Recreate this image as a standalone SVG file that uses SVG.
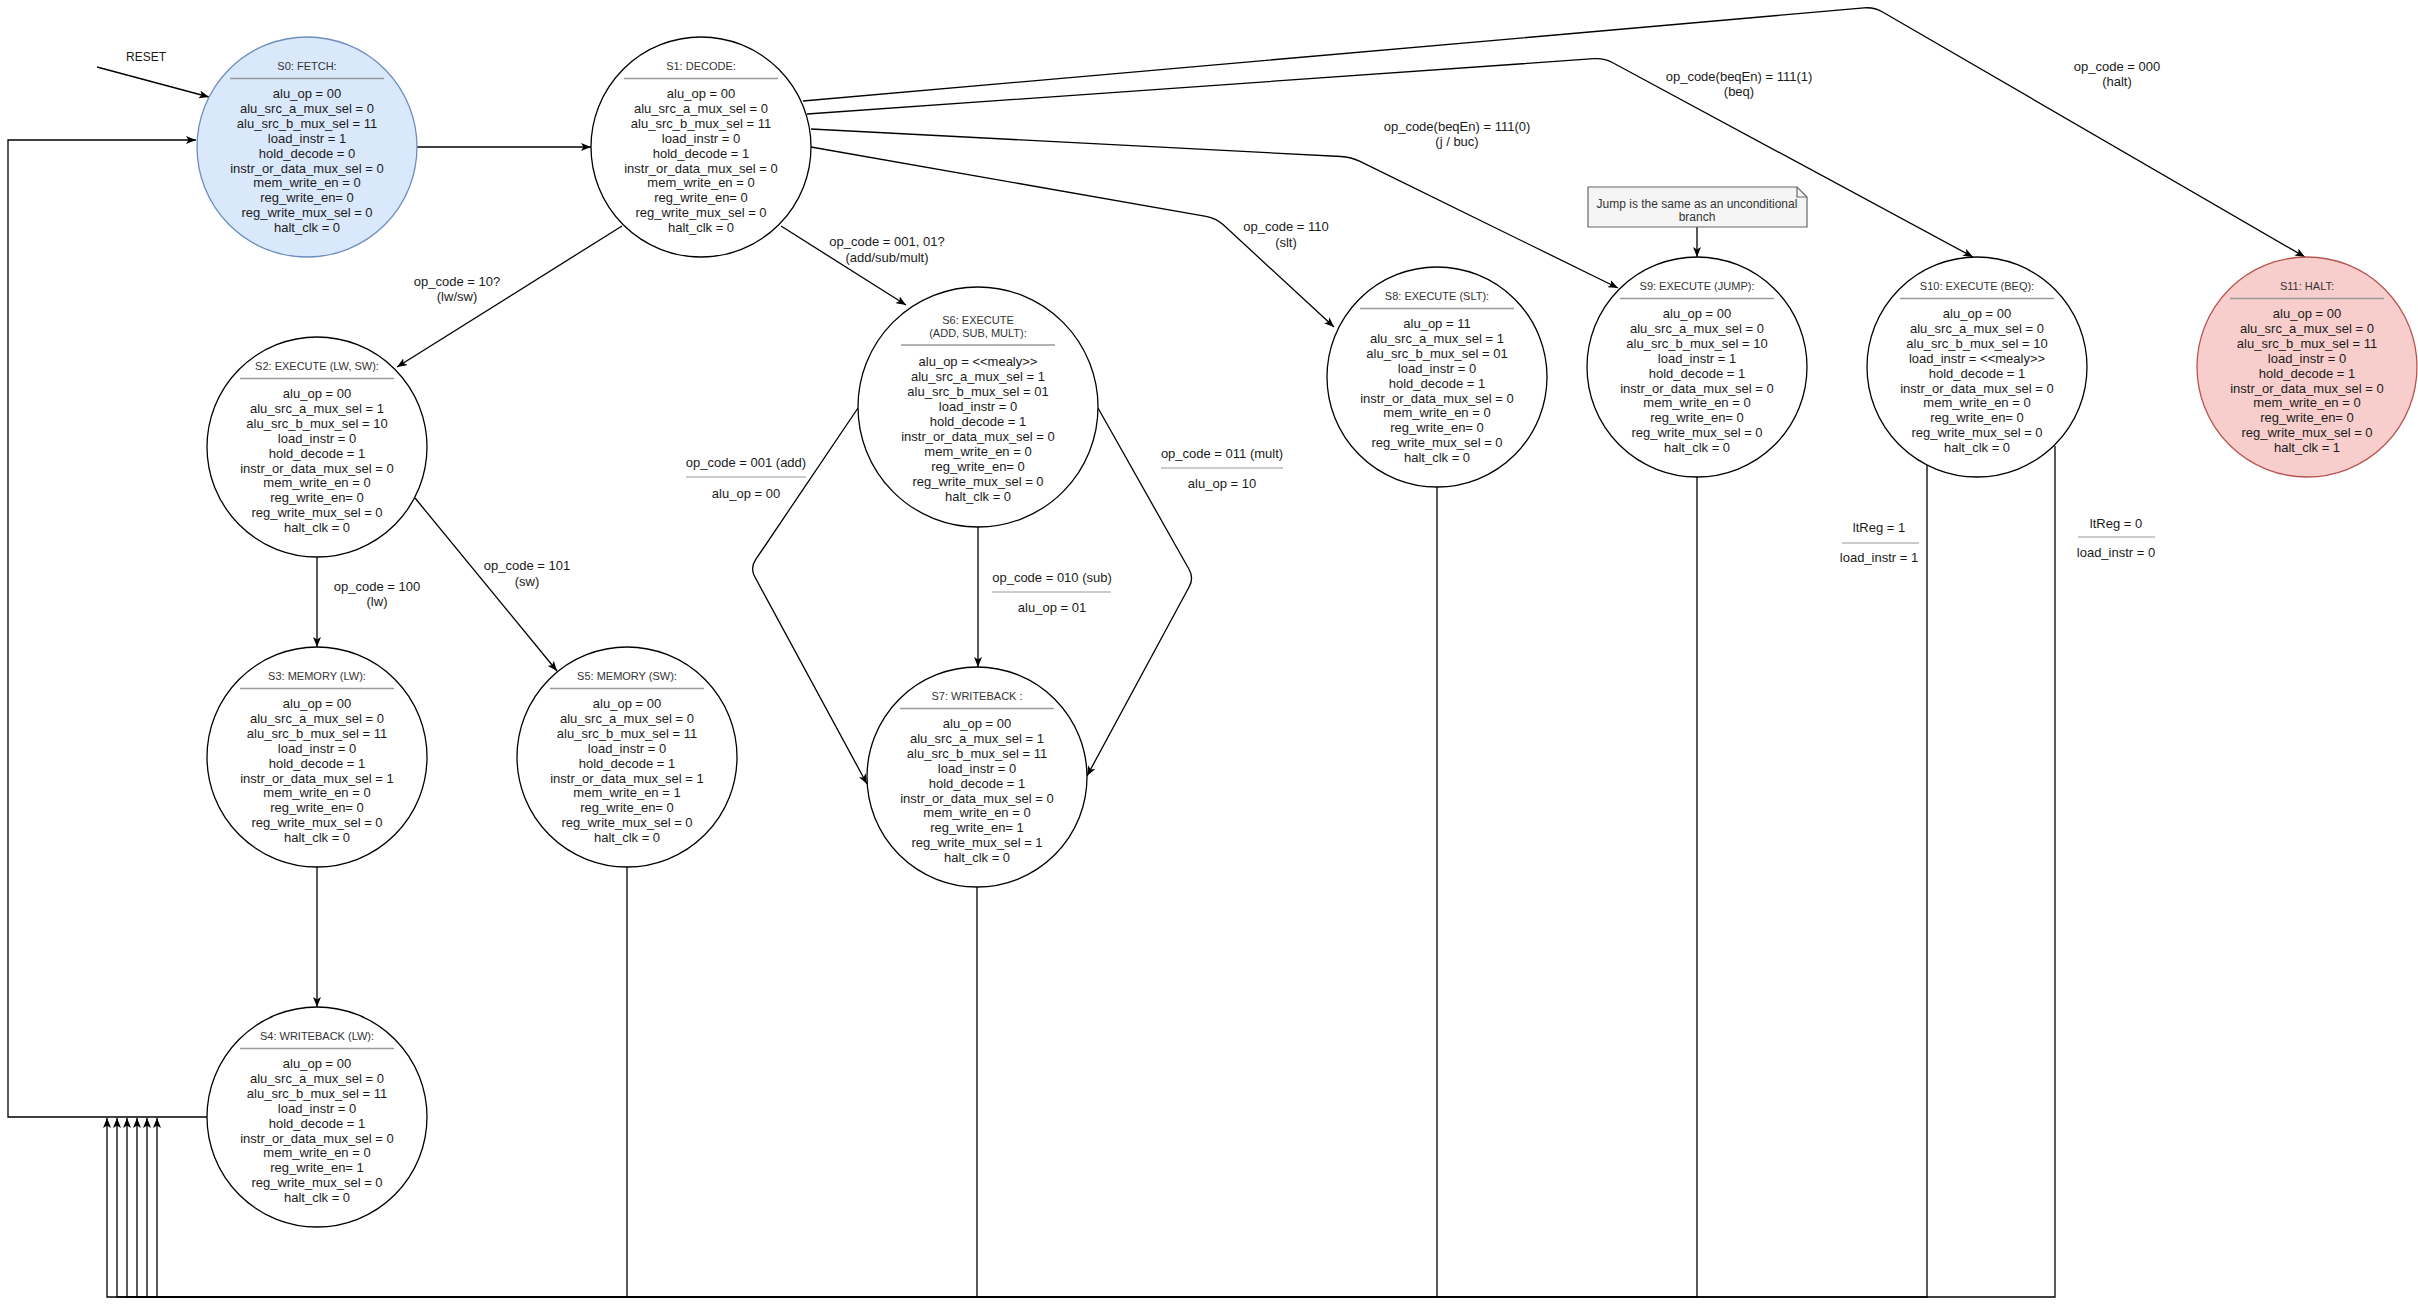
<svg xmlns="http://www.w3.org/2000/svg" width="2418" height="1307" viewBox="0 0 2418 1307">
<defs>
<marker id="arr" viewBox="0 0 10 8" refX="10" refY="4" markerWidth="10" markerHeight="8" markerUnits="userSpaceOnUse" orient="auto">
<path d="M0,0 L10,4 L0,8 L2.5,4 Z" fill="#000"/>
</marker>
<style>
.st{fill:#fff;stroke:#000;stroke-width:1.3}
.blue{fill:#dae8fc;stroke:#6c8ebf}
.red{fill:#f8cecc;stroke:#b85450}
.tt{font-family:"Liberation Sans",Arial,sans-serif;font-size:11px;fill:#333;text-anchor:middle}
.bd{font-family:"Liberation Sans",Arial,sans-serif;font-size:13px;fill:#1a1a1a;text-anchor:middle}
.sep{stroke:#999;stroke-width:1.5}
.edge{fill:none;stroke:#000;stroke-width:1.3;marker-end:url(#arr)}
.lbl{font-family:"Liberation Sans",Arial,sans-serif;font-size:13px;fill:#1a1a1a;text-anchor:middle}
.lsep{stroke:#999;stroke-width:1.2}
.note{fill:#f5f5f5;stroke:#666;stroke-width:1.2}
.nt{font-family:"Liberation Sans",Arial,sans-serif;font-size:12px;fill:#333;text-anchor:middle}
</style>
</defs>
<rect width="2418" height="1307" fill="#fff"/>

<g id="connectors">
<line class="edge" x1="97" y1="67" x2="209" y2="97"/>
<text class="lbl" x="146" y="61" style="font-size:12px">RESET</text>
<line class="edge" x1="417" y1="147" x2="591" y2="147"/>
<line class="edge" x1="622" y1="226" x2="397" y2="367"/>
<line class="edge" x1="781" y1="226" x2="906" y2="305"/>
<path class="edge" d="M811,147 L1206,216.3 Q1216,218 1223.3,224.8 L1334,327"/>
<path class="edge" d="M811,129 L1341,156.5 Q1351,157 1360,161.4 L1618,288"/>
<path class="edge" d="M807,114 L1594,58.7 Q1604,58 1612.8,62.7 L1973,257"/>
<path class="edge" d="M803,101 L1864,7.9 Q1874,7 1882.6,12 L2305,257"/>
<line class="edge" x1="317" y1="557" x2="317" y2="647"/>
<line class="edge" x1="415" y1="498" x2="557" y2="671"/>
<line class="edge" x1="317" y1="867" x2="317" y2="1007"/>
<path class="edge" d="M858,408 L755.6,559.7 Q750,568 754.8,576.8 L867,784"/>
<line class="edge" x1="978" y1="527" x2="978" y2="667"/>
<path class="edge" d="M1098,408 L1189,569.3 Q1194,578 1189.2,586.8 L1087,776"/>
<line class="edge" x1="1697" y1="227" x2="1697" y2="257"/>
<path class="edge" d="M207,1117 H8 V140 H196"/>
<path class="edge" d="M627,867 V1297 H107 V1118"/>
<path class="edge" d="M977,887 V1297 H117 V1118"/>
<path class="edge" d="M1437,487 V1297 H127 V1118"/>
<path class="edge" d="M1697,477 V1297 H137 V1118"/>
<path class="edge" d="M1927,465 V1297 H147 V1118"/>
<path class="edge" d="M2055,446 V1297 H157 V1118"/>

<text class="lbl" x="457" y="285.5">op_code = 10?</text>
<text class="lbl" x="457" y="300.5">(lw/sw)</text>
<text class="lbl" x="887" y="245.5">op_code = 001, 01?</text>
<text class="lbl" x="887" y="261.5">(add/sub/mult)</text>
<text class="lbl" x="1286" y="230.5">op_code = 110</text>
<text class="lbl" x="1286" y="246.5">(slt)</text>
<text class="lbl" x="1457" y="130.5">op_code(beqEn) = 111(0)</text>
<text class="lbl" x="1457" y="145.5">(j / buc)</text>
<text class="lbl" x="1739" y="80.5">op_code(beqEn) = 111(1)</text>
<text class="lbl" x="1739" y="95.5">(beq)</text>
<text class="lbl" x="2117" y="70.5">op_code = 000</text>
<text class="lbl" x="2117" y="85.5">(halt)</text>
<text class="lbl" x="377" y="590.5">op_code = 100</text>
<text class="lbl" x="377" y="605.5">(lw)</text>
<text class="lbl" x="527" y="569.5">op_code = 101</text>
<text class="lbl" x="527" y="585.5">(sw)</text>
<text class="lbl" x="746" y="466.5">op_code = 001 (add)</text>
<line class="lsep" x1="686" y1="477" x2="806" y2="477"/>
<text class="lbl" x="746" y="497.5">alu_op = 00</text>
<text class="lbl" x="1052" y="581.5">op_code = 010 (sub)</text>
<line class="lsep" x1="992" y1="592" x2="1111" y2="592"/>
<text class="lbl" x="1052" y="611.5">alu_op = 01</text>
<text class="lbl" x="1222" y="457.5">op_code = 011 (mult)</text>
<line class="lsep" x1="1161" y1="468" x2="1283" y2="468"/>
<text class="lbl" x="1222" y="487.5">alu_op = 10</text>
<text class="lbl" x="1879" y="531.5">ltReg = 1</text>
<line class="lsep" x1="1842" y1="543" x2="1919" y2="543"/>
<text class="lbl" x="1879" y="561.5">load_instr = 1</text>
<text class="lbl" x="2116" y="527.5">ltReg = 0</text>
<line class="lsep" x1="2078" y1="537" x2="2155" y2="537"/>
<text class="lbl" x="2116" y="556.5">load_instr = 0</text>
</g>

<g id="note">
<path class="note" d="M1588,187 H1797 L1807,197 V227 H1588 Z"/>
<path d="M1797,187 V197 H1807" fill="none" stroke="#666" stroke-width="1.2"/>
<text class="nt" x="1697" y="208">Jump is the same as an unconditional</text>
<text class="nt" x="1697" y="221">branch</text>
</g>

<g id="s0">
<circle class="st blue" cx="307" cy="147" r="110"/>
<text class="tt" x="307" y="70">S0: FETCH:</text>
<line class="sep" x1="230" y1="78.5" x2="384" y2="78.5"/>
<text class="bd" y="98"><tspan x="307">alu_op = 00</tspan><tspan x="307" dy="14.9">alu_src_a_mux_sel = 0</tspan><tspan x="307" dy="14.9">alu_src_b_mux_sel = 11</tspan><tspan x="307" dy="14.9">load_instr = 1</tspan><tspan x="307" dy="14.9">hold_decode = 0</tspan><tspan x="307" dy="14.9">instr_or_data_mux_sel = 0</tspan><tspan x="307" dy="14.9">mem_write_en = 0</tspan><tspan x="307" dy="14.9">reg_write_en= 0</tspan><tspan x="307" dy="14.9">reg_write_mux_sel = 0</tspan><tspan x="307" dy="14.9">halt_clk = 0</tspan></text>
</g>

<g id="s1">
<circle class="st" cx="701" cy="147" r="110"/>
<text class="tt" x="701" y="70">S1: DECODE:</text>
<line class="sep" x1="624" y1="78.5" x2="778" y2="78.5"/>
<text class="bd" y="98"><tspan x="701">alu_op = 00</tspan><tspan x="701" dy="14.9">alu_src_a_mux_sel = 0</tspan><tspan x="701" dy="14.9">alu_src_b_mux_sel = 11</tspan><tspan x="701" dy="14.9">load_instr = 0</tspan><tspan x="701" dy="14.9">hold_decode = 1</tspan><tspan x="701" dy="14.9">instr_or_data_mux_sel = 0</tspan><tspan x="701" dy="14.9">mem_write_en = 0</tspan><tspan x="701" dy="14.9">reg_write_en= 0</tspan><tspan x="701" dy="14.9">reg_write_mux_sel = 0</tspan><tspan x="701" dy="14.9">halt_clk = 0</tspan></text>
</g>

<g id="s2">
<circle class="st" cx="317" cy="447" r="110"/>
<text class="tt" x="317" y="370">S2: EXECUTE (LW, SW):</text>
<line class="sep" x1="240" y1="378.5" x2="394" y2="378.5"/>
<text class="bd" y="398"><tspan x="317">alu_op = 00</tspan><tspan x="317" dy="14.9">alu_src_a_mux_sel = 1</tspan><tspan x="317" dy="14.9">alu_src_b_mux_sel = 10</tspan><tspan x="317" dy="14.9">load_instr = 0</tspan><tspan x="317" dy="14.9">hold_decode = 1</tspan><tspan x="317" dy="14.9">instr_or_data_mux_sel = 0</tspan><tspan x="317" dy="14.9">mem_write_en = 0</tspan><tspan x="317" dy="14.9">reg_write_en= 0</tspan><tspan x="317" dy="14.9">reg_write_mux_sel = 0</tspan><tspan x="317" dy="14.9">halt_clk = 0</tspan></text>
</g>

<g id="s3">
<circle class="st" cx="317" cy="757" r="110"/>
<text class="tt" x="317" y="680">S3: MEMORY (LW):</text>
<line class="sep" x1="240" y1="688.5" x2="394" y2="688.5"/>
<text class="bd" y="708"><tspan x="317">alu_op = 00</tspan><tspan x="317" dy="14.9">alu_src_a_mux_sel = 0</tspan><tspan x="317" dy="14.9">alu_src_b_mux_sel = 11</tspan><tspan x="317" dy="14.9">load_instr = 0</tspan><tspan x="317" dy="14.9">hold_decode = 1</tspan><tspan x="317" dy="14.9">instr_or_data_mux_sel = 1</tspan><tspan x="317" dy="14.9">mem_write_en = 0</tspan><tspan x="317" dy="14.9">reg_write_en= 0</tspan><tspan x="317" dy="14.9">reg_write_mux_sel = 0</tspan><tspan x="317" dy="14.9">halt_clk = 0</tspan></text>
</g>

<g id="s4">
<circle class="st" cx="317" cy="1117" r="110"/>
<text class="tt" x="317" y="1040">S4: WRITEBACK (LW):</text>
<line class="sep" x1="240" y1="1048.5" x2="394" y2="1048.5"/>
<text class="bd" y="1068"><tspan x="317">alu_op = 00</tspan><tspan x="317" dy="14.9">alu_src_a_mux_sel = 0</tspan><tspan x="317" dy="14.9">alu_src_b_mux_sel = 11</tspan><tspan x="317" dy="14.9">load_instr = 0</tspan><tspan x="317" dy="14.9">hold_decode = 1</tspan><tspan x="317" dy="14.9">instr_or_data_mux_sel = 0</tspan><tspan x="317" dy="14.9">mem_write_en = 0</tspan><tspan x="317" dy="14.9">reg_write_en= 1</tspan><tspan x="317" dy="14.9">reg_write_mux_sel = 0</tspan><tspan x="317" dy="14.9">halt_clk = 0</tspan></text>
</g>

<g id="s5">
<circle class="st" cx="627" cy="757" r="110"/>
<text class="tt" x="627" y="680">S5: MEMORY (SW):</text>
<line class="sep" x1="550" y1="688.5" x2="704" y2="688.5"/>
<text class="bd" y="708"><tspan x="627">alu_op = 00</tspan><tspan x="627" dy="14.9">alu_src_a_mux_sel = 0</tspan><tspan x="627" dy="14.9">alu_src_b_mux_sel = 11</tspan><tspan x="627" dy="14.9">load_instr = 0</tspan><tspan x="627" dy="14.9">hold_decode = 1</tspan><tspan x="627" dy="14.9">instr_or_data_mux_sel = 1</tspan><tspan x="627" dy="14.9">mem_write_en = 1</tspan><tspan x="627" dy="14.9">reg_write_en= 0</tspan><tspan x="627" dy="14.9">reg_write_mux_sel = 0</tspan><tspan x="627" dy="14.9">halt_clk = 0</tspan></text>
</g>

<g id="s6">
<circle class="st" cx="978" cy="407" r="120"/>
<text class="tt" x="978" y="323.5">S6: EXECUTE</text>
<text class="tt" x="978" y="336.6">(ADD, SUB, MULT):</text>
<line class="sep" x1="901" y1="345" x2="1055" y2="345"/>
<text class="bd" y="365.5"><tspan x="978">alu_op = &lt;&lt;mealy&gt;&gt;</tspan><tspan x="978" dy="15">alu_src_a_mux_sel = 1</tspan><tspan x="978" dy="15">alu_src_b_mux_sel = 01</tspan><tspan x="978" dy="15">load_instr = 0</tspan><tspan x="978" dy="15">hold_decode = 1</tspan><tspan x="978" dy="15">instr_or_data_mux_sel = 0</tspan><tspan x="978" dy="15">mem_write_en = 0</tspan><tspan x="978" dy="15">reg_write_en= 0</tspan><tspan x="978" dy="15">reg_write_mux_sel = 0</tspan><tspan x="978" dy="15">halt_clk = 0</tspan></text>
</g>

<g id="s7">
<circle class="st" cx="977" cy="777" r="110"/>
<text class="tt" x="977" y="700">S7: WRITEBACK :</text>
<line class="sep" x1="900" y1="708.5" x2="1054" y2="708.5"/>
<text class="bd" y="728"><tspan x="977">alu_op = 00</tspan><tspan x="977" dy="14.9">alu_src_a_mux_sel = 1</tspan><tspan x="977" dy="14.9">alu_src_b_mux_sel = 11</tspan><tspan x="977" dy="14.9">load_instr = 0</tspan><tspan x="977" dy="14.9">hold_decode = 1</tspan><tspan x="977" dy="14.9">instr_or_data_mux_sel = 0</tspan><tspan x="977" dy="14.9">mem_write_en = 0</tspan><tspan x="977" dy="14.9">reg_write_en= 1</tspan><tspan x="977" dy="14.9">reg_write_mux_sel = 1</tspan><tspan x="977" dy="14.9">halt_clk = 0</tspan></text>
</g>

<g id="s8">
<circle class="st" cx="1437" cy="377" r="110"/>
<text class="tt" x="1437" y="300">S8: EXECUTE (SLT):</text>
<line class="sep" x1="1360" y1="308.5" x2="1514" y2="308.5"/>
<text class="bd" y="328"><tspan x="1437">alu_op = 11</tspan><tspan x="1437" dy="14.9">alu_src_a_mux_sel = 1</tspan><tspan x="1437" dy="14.9">alu_src_b_mux_sel = 01</tspan><tspan x="1437" dy="14.9">load_instr = 0</tspan><tspan x="1437" dy="14.9">hold_decode = 1</tspan><tspan x="1437" dy="14.9">instr_or_data_mux_sel = 0</tspan><tspan x="1437" dy="14.9">mem_write_en = 0</tspan><tspan x="1437" dy="14.9">reg_write_en= 0</tspan><tspan x="1437" dy="14.9">reg_write_mux_sel = 0</tspan><tspan x="1437" dy="14.9">halt_clk = 0</tspan></text>
</g>

<g id="s9">
<circle class="st" cx="1697" cy="367" r="110"/>
<text class="tt" x="1697" y="290">S9: EXECUTE (JUMP):</text>
<line class="sep" x1="1620" y1="298.5" x2="1774" y2="298.5"/>
<text class="bd" y="318"><tspan x="1697">alu_op = 00</tspan><tspan x="1697" dy="14.9">alu_src_a_mux_sel = 0</tspan><tspan x="1697" dy="14.9">alu_src_b_mux_sel = 10</tspan><tspan x="1697" dy="14.9">load_instr = 1</tspan><tspan x="1697" dy="14.9">hold_decode = 1</tspan><tspan x="1697" dy="14.9">instr_or_data_mux_sel = 0</tspan><tspan x="1697" dy="14.9">mem_write_en = 0</tspan><tspan x="1697" dy="14.9">reg_write_en= 0</tspan><tspan x="1697" dy="14.9">reg_write_mux_sel = 0</tspan><tspan x="1697" dy="14.9">halt_clk = 0</tspan></text>
</g>

<g id="s10">
<circle class="st" cx="1977" cy="367" r="110"/>
<text class="tt" x="1977" y="290">S10: EXECUTE (BEQ):</text>
<line class="sep" x1="1900" y1="298.5" x2="2054" y2="298.5"/>
<text class="bd" y="318"><tspan x="1977">alu_op = 00</tspan><tspan x="1977" dy="14.9">alu_src_a_mux_sel = 0</tspan><tspan x="1977" dy="14.9">alu_src_b_mux_sel = 10</tspan><tspan x="1977" dy="14.9">load_instr = &lt;&lt;mealy&gt;&gt;</tspan><tspan x="1977" dy="14.9">hold_decode = 1</tspan><tspan x="1977" dy="14.9">instr_or_data_mux_sel = 0</tspan><tspan x="1977" dy="14.9">mem_write_en = 0</tspan><tspan x="1977" dy="14.9">reg_write_en= 0</tspan><tspan x="1977" dy="14.9">reg_write_mux_sel = 0</tspan><tspan x="1977" dy="14.9">halt_clk = 0</tspan></text>
</g>

<g id="s11">
<circle class="st red" cx="2307" cy="367" r="110"/>
<text class="tt" x="2307" y="290">S11: HALT:</text>
<line class="sep" x1="2230" y1="298.5" x2="2384" y2="298.5"/>
<text class="bd" y="318"><tspan x="2307">alu_op = 00</tspan><tspan x="2307" dy="14.9">alu_src_a_mux_sel = 0</tspan><tspan x="2307" dy="14.9">alu_src_b_mux_sel = 11</tspan><tspan x="2307" dy="14.9">load_instr = 0</tspan><tspan x="2307" dy="14.9">hold_decode = 1</tspan><tspan x="2307" dy="14.9">instr_or_data_mux_sel = 0</tspan><tspan x="2307" dy="14.9">mem_write_en = 0</tspan><tspan x="2307" dy="14.9">reg_write_en= 0</tspan><tspan x="2307" dy="14.9">reg_write_mux_sel = 0</tspan><tspan x="2307" dy="14.9">halt_clk = 1</tspan></text>
</g>
</svg>
